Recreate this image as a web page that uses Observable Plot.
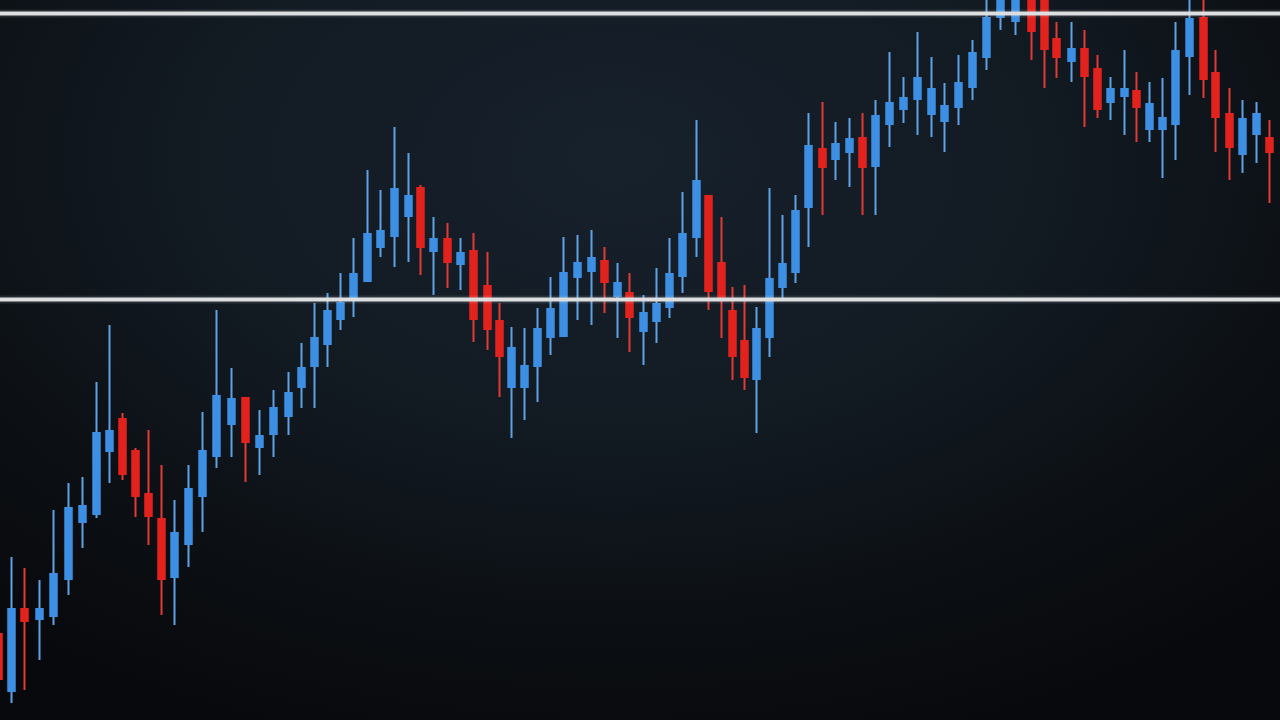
<!DOCTYPE html>
<html>
<head>
<meta charset="utf-8">
<script src="https://cdn.jsdelivr.net/npm/d3@7"></script>
<script src="https://cdn.jsdelivr.net/npm/@observablehq/plot@0.6"></script>
<style>
  html, body { margin: 0; padding: 0; width: 1280px; height: 720px; overflow: hidden;
    background: radial-gradient(ellipse 75% 85% at 48% 22%, #17212c 0%, #121a22 45%, #0b0e12 80%, #08090c 100%); }
  #chart svg { display: block; }
</style>
</head>
<body>
<div id="chart"></div>
<script>
// time position of each session
const t = [-2, 11, 24, 39, 53, 68, 82, 96, 109, 122, 135, 148, 161, 174, 188, 202, 216, 231, 245, 259,
  273, 288, 301, 314, 327, 340, 353, 367, 380, 394, 408, 420, 433, 447, 460, 473, 487, 499, 511, 524,
  537, 550, 563, 577, 591, 604, 617, 629, 643, 656, 669, 682, 696, 708, 721, 732, 744, 756, 769, 782,
  795, 808, 822, 835, 849, 862, 875, 889, 903, 917, 931, 944, 958, 972, 986, 1000, 1015, 1031, 1044, 1056,
  1071, 1084, 1097, 1110, 1124, 1136, 1149, 1162, 1175, 1189, 1203, 1215, 1229, 1242, 1256, 1269];
const open = [87, 28, 112, 100, 103, 140, 197, 205, 268, 302, 270, 227, 202, 142, 175, 223, 263, 295, 323, 272,
  285, 303, 332, 353, 375, 400, 422, 438, 472, 483, 503, 533, 468, 482, 455, 470, 435, 400, 332, 332,
  353, 382, 383, 442, 448, 460, 423, 428, 388, 398, 412, 443, 482, 525, 458, 410, 380, 340, 382, 432,
  447, 512, 572, 560, 567, 583, 553, 595, 610, 620, 605, 598, 612, 632, 662, 702, 698, 728, 725, 682,
  658, 672, 652, 617, 623, 630, 590, 590, 595, 663, 703, 648, 607, 565, 585, 583];
const close = [40, 112, 98, 112, 147, 213, 215, 288, 290, 245, 223, 203, 140, 188, 232, 270, 325, 322, 277, 285,
  313, 328, 353, 383, 410, 418, 447, 487, 490, 532, 525, 472, 482, 457, 468, 400, 390, 363, 373, 355,
  392, 412, 448, 458, 463, 437, 438, 402, 408, 417, 447, 487, 540, 428, 422, 363, 342, 392, 442, 457,
  510, 575, 552, 577, 582, 552, 605, 618, 623, 643, 632, 615, 638, 668, 703, 722, 725, 688, 670, 662,
  672, 643, 610, 632, 632, 612, 617, 603, 670, 702, 640, 602, 572, 602, 607, 567];
const high = [95, 163, 152, 140, 210, 237, 243, 338, 395, 307, 272, 290, 255, 220, 255, 308, 410, 352, 323, 310,
  330, 348, 377, 417, 427, 447, 482, 550, 530, 593, 567, 535, 503, 497, 482, 487, 468, 417, 393, 392,
  412, 443, 483, 485, 490, 473, 457, 447, 425, 452, 482, 528, 600, 525, 503, 433, 435, 413, 532, 505,
  525, 607, 618, 598, 602, 607, 620, 668, 643, 688, 663, 637, 665, 680, 720, 725, 730, 735, 730, 698,
  698, 690, 665, 643, 670, 648, 638, 642, 698, 725, 725, 670, 632, 620, 618, 600];
const low = [30, 17, 30, 60, 95, 125, 172, 202, 237, 240, 203, 175, 105, 95, 153, 188, 252, 263, 238, 245,
  263, 285, 312, 312, 353, 390, 403, 438, 463, 453, 458, 445, 425, 432, 430, 378, 370, 323, 282, 300,
  318, 365, 383, 400, 395, 407, 382, 368, 355, 377, 402, 427, 463, 410, 382, 340, 330, 287, 363, 422,
  437, 473, 505, 540, 533, 505, 505, 573, 597, 585, 583, 568, 595, 620, 650, 690, 685, 660, 632, 642,
  638, 593, 602, 600, 585, 578, 578, 542, 560, 625, 622, 568, 540, 547, 557, 517];
// horizontal support / resistance levels
const levels = [421, 707];

const candles = t.map((ti, i) => ({t: ti, open: open[i], close: close[i], high: high[i], low: low[i],
  dir: close[i] >= open[i] ? "up" : "down"}));

const wickColor = {up: "#5ea2e6", down: "#e23a34"};

const chart = Plot.plot({
  width: 1280,
  height: 720,
  margin: 0,
  style: {background: "transparent", overflow: "hidden"},
  x: {domain: [0, 1280], axis: null},
  y: {domain: [0, 720], axis: null},
  color: {domain: ["up", "down"], range: ["#3c8fe2", "#e3221e"]},
  marks: [
    Plot.ruleX(candles, {x: "t", y1: "low", y2: "high", stroke: d => wickColor[d.dir], strokeWidth: 2}),
    Plot.ruleX(candles, {x: "t", y1: "open", y2: "close", stroke: "dir", strokeWidth: 8.5}),
    Plot.ruleY(levels, {stroke: "#ffffff", strokeWidth: 8, strokeOpacity: 0.1}),
    Plot.ruleY(levels, {stroke: "#dcdee0", strokeWidth: 4})
  ]
});
document.getElementById("chart").appendChild(chart);
</script>
</body>
</html>
